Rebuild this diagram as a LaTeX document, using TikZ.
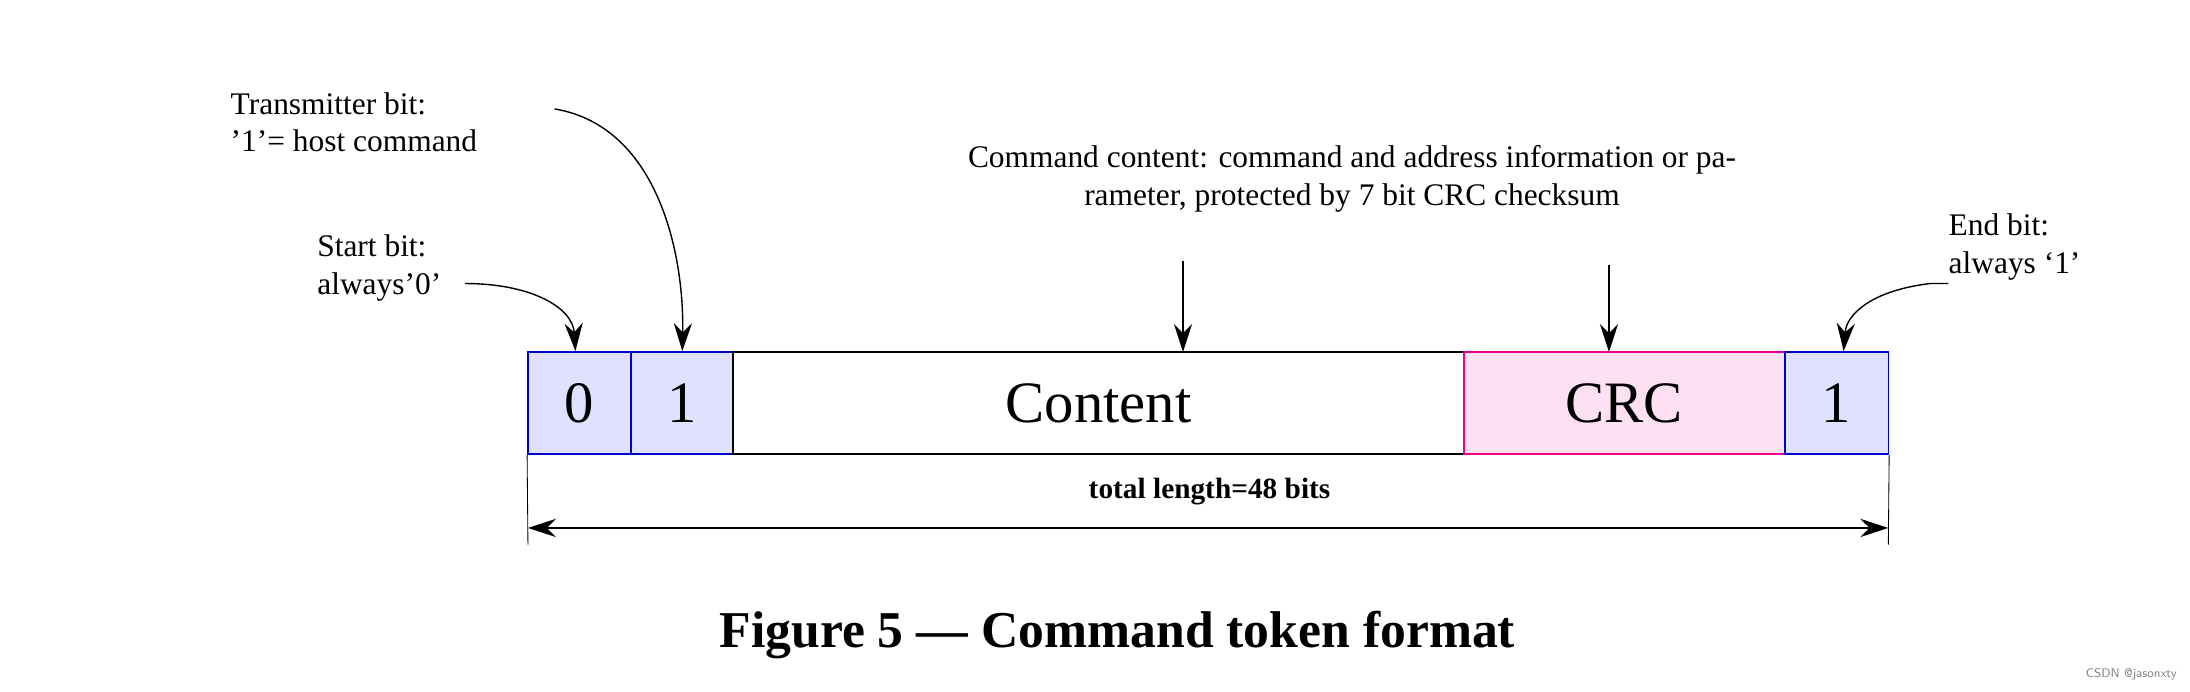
\documentclass[tikz,border=0pt]{standalone}
\usepackage{fontspec}
\setmainfont{Liberation Serif}
\usetikzlibrary{arrows.meta}
\begin{document}
\begin{tikzpicture}[x=1pt,y=-1pt,
  cellb/.style={draw=blue!80!black,fill=blue!12,line width=1.2pt,minimum height=73pt,inner sep=0pt,font=\fontsize{42}{44}\selectfont},
  lbl/.style={font=\fontsize{22.5}{27}\selectfont,align=left,inner sep=0pt},
  arr/.style={-{Stealth[length=20pt,width=13pt]},line width=1pt}]
\useasboundingbox (0,0) rectangle (1568,495);
\node[cellb,minimum width=74pt] (c0) at (415,288.5) {0};
\node[cellb,minimum width=73pt] (c1) at (488.5,288.5) {1};
\node[draw=black,line width=1.5pt,minimum width=523pt,minimum height=73pt,inner sep=0pt,font=\fontsize{42}{44}\selectfont] (ct) at (786.5,288.5) {Content};
\node[draw=magenta,fill=magenta!12,line width=1.5pt,minimum width=230pt,minimum height=73pt,inner sep=0pt,font=\fontsize{42}{44}\selectfont] (crc) at (1163,288.5) {CRC};
\node[cellb,minimum width=74pt] (c2) at (1315,288.5) {1};
% dimension
\coordinate (dl) at (378,378); \coordinate (dr) at (1352,378);
\draw[line width=0.6pt] (c0.south west) -- (378,390);
\draw[line width=0.6pt] (c2.south east) -- (1352,390);
\draw[{Stealth[length=20pt,width=13pt]}-{Stealth[length=20pt,width=13pt]},line width=1.8pt] (dl) -- (dr);
\node[font=\bfseries\fontsize{21}{24}\selectfont] (tl) at (866,352) {total length=48 bits};
% labels
\node[lbl,anchor=north west] (tx) at (165,66) {Transmitter bit:\\’1’= host command};
\node[lbl,anchor=north west] (sb) at (227,168) {Start bit:\\always’0’};
\node[lbl,align=center] (cc) at (968,128) {Command content: command and address information or pa-\\rameter, protected by 7 bit CRC checksum};
\node[lbl,anchor=north west] (eb) at (1395,153) {End bit:\\always ‘1’};
\coordinate (tx0) at (397,78);
\coordinate (sb0) at (333,203);
\coordinate (eb0) at (1395,203);
\coordinate (cc0) at (847,187);
\coordinate (crc0) at (1152,190);
\draw[arr] (tx0) .. controls (470,90) and (490,180) .. (c1.north);
\draw[arr] (sb0) .. controls (380,203) and (410,220) .. ([xshift=-3pt]c0.north);
\draw[arr] (cc0) -- (847,252);
\draw[arr] (crc0) -- (1152,252);
\draw[arr] (eb0) -- (1382,203) .. controls (1340,208) and (1322,225) .. ([xshift=5pt]c2.north);
\node[font=\bfseries\fontsize{37}{42}\selectfont] (ttl) at (800,455) {Figure 5 — Command token format};
\node[font=\sffamily\fontsize{9}{10}\selectfont,text=gray,anchor=east] (wm) at (1562,483) {CSDN @jasonxty};
\end{tikzpicture}
\end{document}
